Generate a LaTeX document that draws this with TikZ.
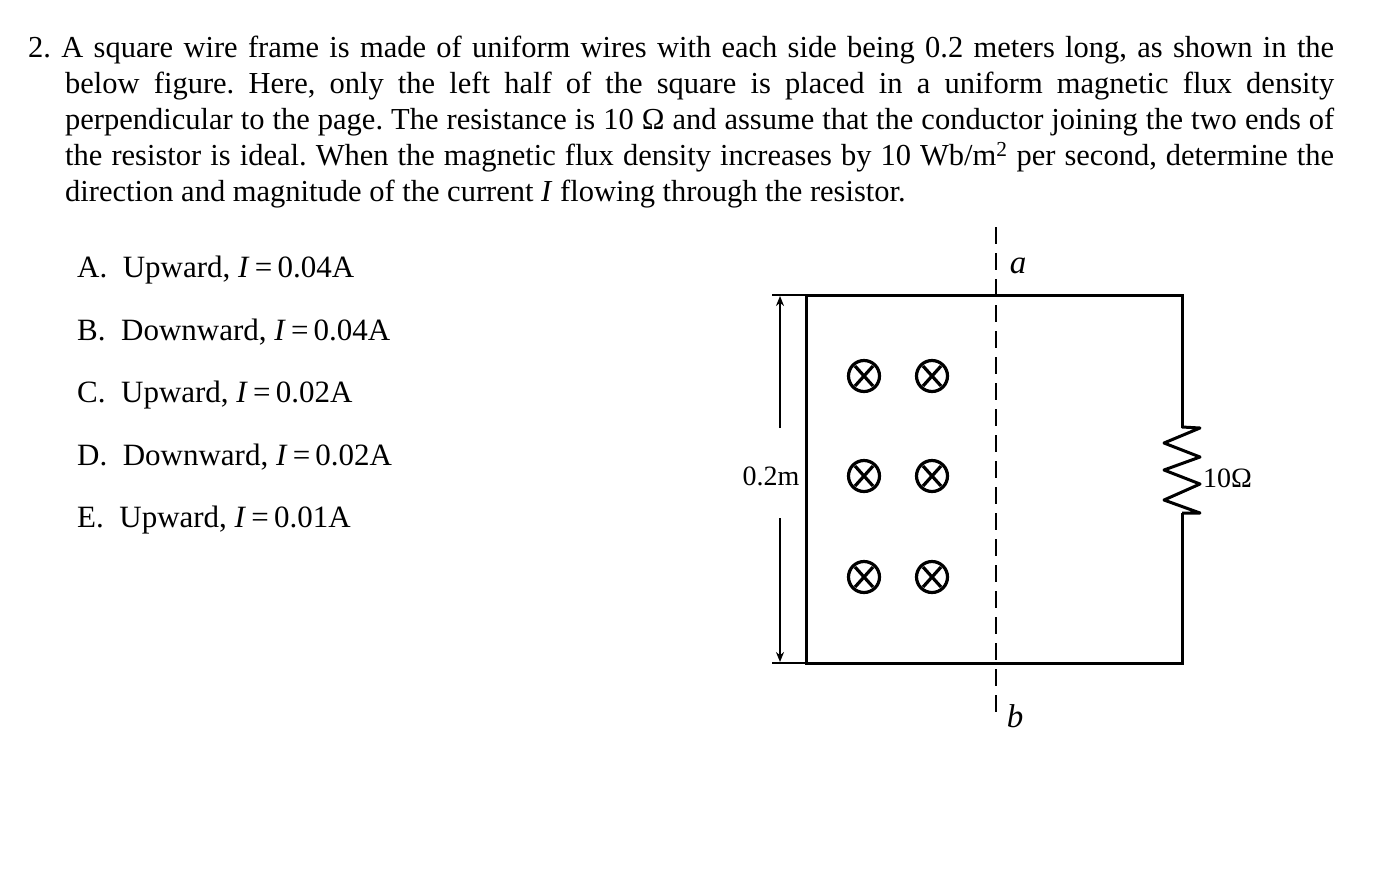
\documentclass[tikz,border=0pt]{standalone}
\usepackage{fontspec}
\setmainfont{Liberation Serif}
\usetikzlibrary{arrows.meta}
\begin{document}
\begin{tikzpicture}[x=1pt,y=-1pt,
  wire/.style={line width=3pt},
  opt/.style={anchor=west,font=\fontsize{31}{32}\selectfont,inner sep=0pt}]
\useasboundingbox (0,0) rectangle (1396,868);
\node[anchor=north west,inner sep=0pt,text width=1306pt,align=justify,font=\fontsize{30.5}{36}\selectfont] (q) at (28,36)
{\frenchspacing\hangindent=37pt\hangafter=1 2. A square wire frame is made of uniform wires with each side being 0.2 meters long, as shown in the\linebreak below figure. Here, only the left half of the square is placed in a uniform magnetic flux density\linebreak perpendicular to the page. The resistance is 10 Ω and assume that the conductor joining the two ends of\linebreak the resistor is ideal. When the magnetic flux density increases by 10 Wb/m\textsuperscript{2} per second, determine the\linebreak direction and magnitude of the current \textit{I} flowing through the resistor.\par};
\node[opt] (A) at (77,270) {A.\ \ Upward, \textit{I}\,=\,0.04A};
\node[opt] (B) at (77,332) {B.\ \ Downward, \textit{I}\,=\,0.04A};
\node[opt] (C) at (77,395) {C.\ \ Upward, \textit{I}\,=\,0.02A};
\node[opt] (D) at (77,457) {D.\ \ Downward, \textit{I}\,=\,0.02A};
\node[opt] (E) at (77,520) {E.\ \ Upward, \textit{I}\,=\,0.01A};
% frame
\coordinate (tl) at (806,295);
\coordinate (tr) at (1182,295);
\coordinate (bl) at (806,663);
\coordinate (br) at (1182,663);
\coordinate (r1) at (1182,428);
\coordinate (r2) at (1182,513);
\draw[wire] (r1) -- (tr) -- (tl) -- (bl) -- (br) -- (r2);
\draw[wire,line join=round] (1182,427) -- (1200,428) -- (1164,443) -- (1200,457) -- (1164,470) -- (1200,484) -- (1164,500) -- (1200,513) -- (1182,513);
\node[anchor=west,inner sep=0pt,font=\fontsize{28}{30}\selectfont] (R) at (1203,478) {10Ω};
% dashed axis
\coordinate (da) at (996,227);
\coordinate (db) at (996,720);
\draw[line width=2.4pt,dash pattern=on 17pt off 9pt] (da) -- (db);
\node[font=\itshape\fontsize{33}{34}\selectfont,inner sep=0pt] (a) at (1018,266) {a};
\node[font=\itshape\fontsize{33}{34}\selectfont,inner sep=0pt] (b) at (1015,716) {b};
% dimension
\draw[line width=2pt] (772,295) -- (806,295);
\draw[line width=2pt] (772,663) -- (806,663);
\coordinate (d1) at (780,428);
\coordinate (d2) at (780,518);
\draw[line width=2.5pt,-{Stealth[length=10pt,width=8pt]}] (d1) -- (780,296);
\draw[line width=2.5pt,-{Stealth[length=10pt,width=8pt]}] (d2) -- (780,662);
\node[font=\fontsize{28}{30}\selectfont,inner sep=0pt] (L) at (771,476) {0.2m};
% field symbols
\foreach \x in {864,932} \foreach \y in {376,476,577} {
  \draw[line width=3.2pt] (\x,\y) circle (15.5);
  \draw[line width=3.2pt] (\x-9,\y-10) -- (\x+9,\y+10) (\x-9,\y+10) -- (\x+9,\y-10);
}
\end{tikzpicture}
\end{document}
